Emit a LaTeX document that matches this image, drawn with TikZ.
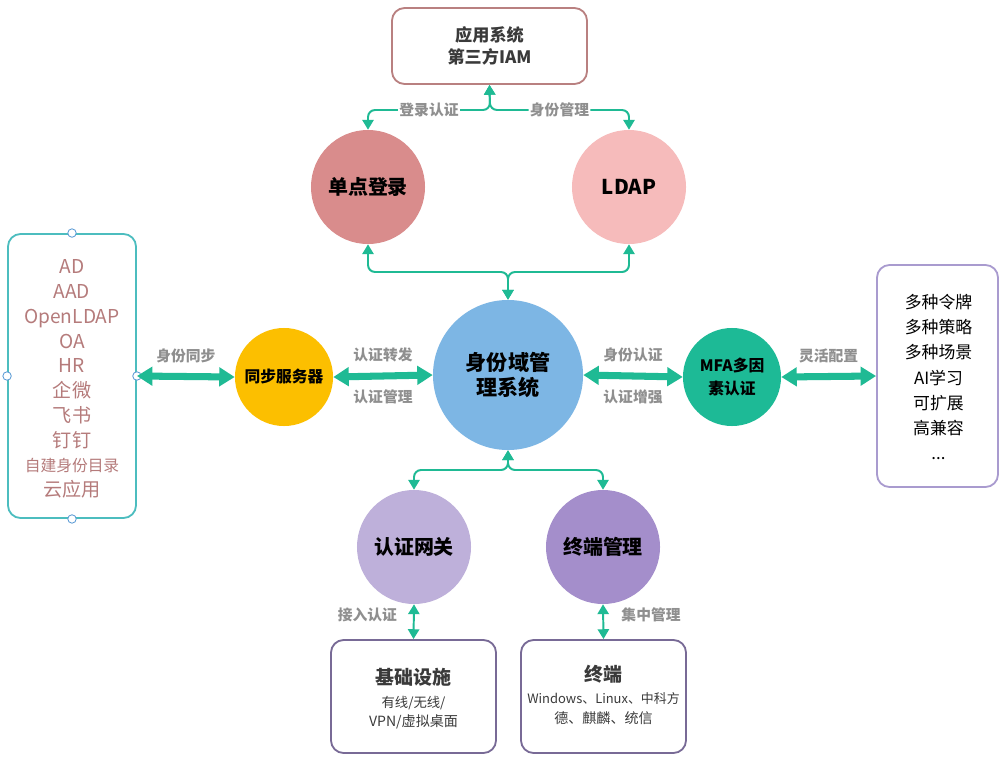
\documentclass[tikz,border=0pt]{standalone}
\usepackage{fontspec}
\setmainfont{Noto Sans CJK SC}
\usetikzlibrary{positioning,arrows.meta,calc}
\definecolor{ink}{HTML}{3A3A3A}
\definecolor{flowc}{HTML}{1FBA94}
\definecolor{tagc}{HTML}{8F8F8F}
\definecolor{rose}{HTML}{D98C8C}
\definecolor{blush}{HTML}{F6BBBB}
\definecolor{core}{HTML}{7DB6E4}
\definecolor{gold}{HTML}{FCBF00}
\definecolor{mint}{HTML}{1DBA96}
\definecolor{lilac}{HTML}{BEB0DA}
\definecolor{violet}{HTML}{A48ECB}
\definecolor{appln}{HTML}{B98080}
\definecolor{srcln}{HTML}{4CBDBF}
\definecolor{srctx}{HTML}{B57B7B}
\definecolor{mfaln}{HTML}{A99BCF}
\definecolor{endln}{HTML}{786A96}
\definecolor{handle}{HTML}{5B9BD5}
\tikzset{
  conn/.style={{Triangle[length=7pt,width=8pt]}-{Triangle[length=7pt,width=8pt]},
    line width=1.4pt, draw=flowc, rounded corners=5pt},
  bigflow/.style={{Triangle[length=11pt,width=13pt]}-{Triangle[length=11pt,width=13pt]},
    line width=5pt, draw=flowc},
  ball/.style={circle, fill=#1, inner sep=0pt, align=center, text=black,
    font=\fontsize{14.2}{16}\selectfont\bfseries},
  card/.style={rounded corners=9pt, draw=#1, line width=1.3pt, fill=white, align=center,
    inner sep=0pt},
  tag/.style={font=\fontsize{10.5}{12}\selectfont\bfseries, text=tagc},
  lst/.style={align=center, inner sep=0pt},
  hdl/.style={circle, draw=handle, fill=white, line width=0.6pt, minimum size=6pt, inner sep=0pt},
}
\begin{document}
\begin{tikzpicture}[x=0.025cm,y=-0.025cm]
  \useasboundingbox[fill=white] (0,0) rectangle (1004,763);

  % top: application box and the two services
  \node[card=appln, minimum width=4.875cm, minimum height=1.9cm, text=ink,
    font=\fontsize{12.2}{16}\selectfont\bfseries] (app) at (489.5,46) {应用系统\\第三方IAM};
  \node[ball=rose, minimum size=2.85cm] (sso) at (368,187) {单点登录};
  \node[ball=blush, minimum size=2.85cm, font=\fontsize{14.5}{16}\selectfont\bfseries] (ldap) at (629,187) {LDAP};

  % centre
  \node[ball=core, minimum size=3.75cm, font=\fontsize{15}{18}\selectfont\bfseries] (idm) at (508,375) {身份域管\\理系统};
  \node[ball=gold, minimum size=2.45cm, font=\fontsize{11.2}{14}\selectfont\bfseries] (sync) at (284,377) {同步服务器};
  \node[ball=mint, minimum size=2.45cm, font=\fontsize{11.2}{16}\selectfont\bfseries] (mfa) at (732,377) {MFA多因\\素认证};

  % side boxes
  \node[card=srcln, minimum width=3.2cm, minimum height=7.1cm] (src) at (72,376) {};
  \node[lst, text=srctx, font=\fontsize{13.6}{17.6}\selectfont] at ($(src.center)+(0,3)$)
    {AD\\AAD\\OpenLDAP\\OA\\HR\\企微\\飞书\\钉钉\\{\fontsize{11.2}{17.6}\selectfont 自建身份目录}\\云应用};
  \foreach \a in {north,south,west,east}
    \node[hdl] at (src.\a) {};
  \node[card=mfaln, minimum width=3.025cm, minimum height=5.55cm] (feat) at (937.5,376) {};
  \node[lst, text=black, font=\fontsize{12}{18}\selectfont] at ($(feat.center)+(1,1)$)
    {多种令牌\\多种策略\\多种场景\\AI学习\\可扩展\\高兼容\\...};

  % bottom
  \node[ball=lilac, minimum size=2.85cm] (gw) at (414,547) {认证网关};
  \node[ball=violet, minimum size=2.85cm] (term) at (603,547) {终端管理};
  \node[card=endln, minimum width=4.125cm, minimum height=2.825cm] (infra) at (413.5,696.5) {};
  \node[card=endln, minimum width=4.125cm, minimum height=2.825cm] (dev) at (603.5,696.5) {};
  \node[lst, text=ink] at ($(infra.center)+(0,2)$)
    {\fontsize{13.5}{16}\selectfont\bfseries 基础设施\\[4pt]
     \fontsize{9.5}{14.2}\selectfont\mdseries 有线/无线/\\[1.5pt]VPN/虚拟桌面};
  \node[lst, text=ink] at ($(dev.center)+(0,-2)$)
    {\fontsize{13.5}{16}\selectfont\bfseries 终端\\[4pt]
     \fontsize{9.2}{14.2}\selectfont\mdseries Windows、Linux、中科方\\[2pt]德、麒麟、统信};

  % connectors
  \coordinate (tj) at (490,110);
  \coordinate (mj) at (508,272);
  \coordinate (bj) at (508,470);
  \draw[conn] (app.south) -- (tj) -| node[pos=0.25, tag, fill=white, inner sep=1pt] {登录认证} (sso.north);
  \draw[conn] (app.south) -- (tj) -| node[pos=0.25, tag, fill=white, inner sep=1pt] {身份管理} (ldap.north);
  \draw[conn] (sso.south) |- (mj) -- (idm.north);
  \draw[conn] (ldap.south) |- (mj) -- (idm.north);
  \draw[conn] (idm.south) -- (bj) -| (gw.north);
  \draw[conn] (idm.south) -- (bj) -| (term.north);
  \draw[conn] (gw.south) -- node[tag, left=8pt, pos=0.3] {接入认证} (infra.north);
  \draw[conn] (term.south) -- node[tag, right=9pt, pos=0.3] {集中管理} (dev.north);

  \draw[bigflow] (src.east) -- node[tag, above=4pt] {身份同步} (sync.west);
  \draw[bigflow] (sync.east) -- node[tag, above=4pt] {认证转发} node[tag, below=4pt] {认证管理} (idm.west);
  \draw[bigflow] (idm.east) -- node[tag, above=4pt] {身份认证} node[tag, below=4pt] {认证增强} (mfa.west);
  \draw[bigflow] (mfa.east) -- node[tag, above=4pt] {灵活配置} (feat.west);
\end{tikzpicture}
\end{document}
